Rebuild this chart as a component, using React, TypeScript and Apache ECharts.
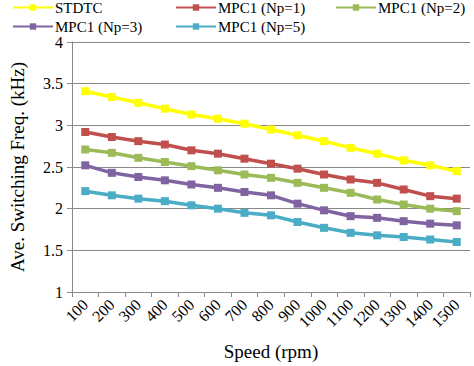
import React, { useEffect, useRef } from "react";
import * as echarts from "echarts";

const speeds = ["100","200","300","400","500","600","700","800","900","1000","1100","1200","1300","1400","1500"];
const stdtc = [3.41,3.34,3.27,3.20,3.13,3.08,3.02,2.95,2.88,2.81,2.73,2.66,2.58,2.52,2.45];
const np1 = [2.92,2.86,2.81,2.77,2.70,2.66,2.60,2.54,2.48,2.41,2.35,2.31,2.23,2.15,2.12];
const np2 = [2.71,2.67,2.61,2.56,2.51,2.46,2.41,2.37,2.31,2.25,2.19,2.11,2.05,2.00,1.97];
const np3 = [2.52,2.43,2.38,2.34,2.29,2.25,2.20,2.16,2.06,1.98,1.91,1.89,1.85,1.82,1.80];
const np5 = [2.21,2.16,2.12,2.09,2.04,2.00,1.95,1.92,1.84,1.77,1.71,1.68,1.66,1.63,1.60];

const seriesNames = ["STDTC","MPC1 (Np=1)","MPC1 (Np=2)","MPC1 (Np=3)","MPC1 (Np=5)"];
const seriesData = [stdtc, np1, np2, np3, np5];
const colors = ["#FFFF00","#C0504D","#9BBB59","#8064A2","#4BACC6"];

const FONT = "Liberation Serif";

export default function App() {
  const ref = useRef<HTMLDivElement>(null);
  useEffect(() => {
    if (!ref.current) return;
    const chart = echarts.init(ref.current, null, { renderer: "svg" });
    const legendPos = [
      { left: 12, top: 0 },
      { left: 175, top: 0 },
      { left: 335, top: 0 },
      { left: 12, top: 19 },
      { left: 175, top: 19 },
    ];
    chart.setOption({
      animation: false,
      textStyle: { fontFamily: FONT },
      legend: seriesNames.map((n, i) => ({
        data: [n],
        left: legendPos[i].left,
        top: legendPos[i].top,
        padding: 0,
        itemWidth: 40,
        itemHeight: 8,
        itemGap: 2,
        textStyle: { fontFamily: FONT, fontSize: 15, lineHeight: 15, color: "#000", padding: [0, 0, 0, -3] },
      })),
      grid: { left: 55, right: 4, top: 42, bottom: 71 },
      xAxis: {
        type: "category",
        data: speeds,
        boundaryGap: true,
        name: "Speed (rpm)",
        nameLocation: "middle",
        nameGap: 50,
        nameTextStyle: { fontFamily: FONT, fontSize: 19, color: "#000" },
        axisLine: { lineStyle: { color: "#888", width: 1 } },
        axisTick: { show: true, length: 5, alignWithLabel: false, lineStyle: { color: "#888" } },
        axisLabel: { rotate: 45, fontFamily: FONT, fontSize: 16, color: "#000", margin: 10, interval: 0 },
        splitLine: { show: false },
      },
      yAxis: {
        type: "value",
        min: 1,
        max: 4,
        interval: 0.5,
        name: "Ave. Switching Freq. (kHz)",
        nameLocation: "middle",
        nameGap: 45,
        nameTextStyle: { fontFamily: FONT, fontSize: 19, color: "#000" },
        axisLine: { show: true, lineStyle: { color: "#888", width: 1 } },
        axisTick: { show: true, length: 5, lineStyle: { color: "#888" } },
        axisLabel: { fontFamily: FONT, fontSize: 16, lineHeight: 14, color: "#000", margin: 9 },
        splitLine: { show: true, lineStyle: { color: "#888", width: 1 } },
      },
      series: seriesNames.map((n, i) => ({
        name: n,
        type: "line",
        data: seriesData[i],
        symbol: "rect",
        symbolSize: 8,
        itemStyle: { color: colors[i] },
        lineStyle: { color: colors[i], width: 3.5 },
      })),
    });
    return () => chart.dispose();
  }, []);
  return <div ref={ref} style={{ width: 474, height: 366, position: "absolute", left: 0, top: 0 }} />;
}
